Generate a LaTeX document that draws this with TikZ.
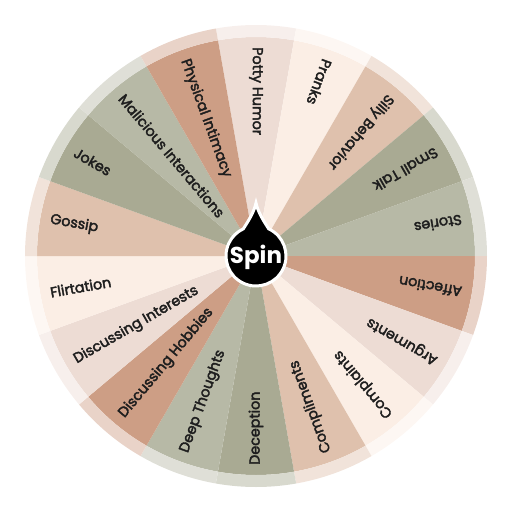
\documentclass[tikz,border=0pt]{standalone}
\usepackage{fontspec}
\setmainfont{Poppins}
\newfontfamily\wheelfont[FakeBold=2.6]{Poppins}
\usepackage{xcolor}
\usetikzlibrary{calc}

\definecolor{wc0}{HTML}{EDDCD4}
\definecolor{wc1}{HTML}{FBEEE5}
\definecolor{wc2}{HTML}{DFC1AD}
\definecolor{wc3}{HTML}{A9AA93}
\definecolor{wc4}{HTML}{B7B9A6}
\definecolor{wc5}{HTML}{CD9E85}
\definecolor{inkgray}{HTML}{1E1E1E}

\begin{document}
\begin{tikzpicture}[
                x=1pt, y=1pt,
                lbl/.style={anchor=west, inner sep=0pt, text=inkgray, font=\wheelfont\fontsize{14.3}{14.3}\selectfont},
                spinbtn/.style={fill=black, draw=white, line width=3pt},
                spintext/.style={text=white, font=\fontsize{23}{23}\selectfont\bfseries}
            ]
                \useasboundingbox (-256,-256) rectangle (256,256);

                % Wheel segments and labels
                \foreach \lbl [count=\i from 0, evaluate=\i as \a using 90-20*\i] in
                    {Potty Humor, Pranks, Silly Behavior, Small Talk, Stories, Affection,
                     Arguments, Complaints, Compliments, Deception, Deep Thoughts, Discussing Hobbies,
                     Discussing Interests, Flirtation, Gossip, Jokes, Malicious Interactions, Physical Intimacy}
                {
                    \pgfmathtruncatemacro{\k}{mod(\i,6)}
                    \fill[wc\k] (0,0) -- (\a-10:219) arc[start angle=\a-10, end angle=\a+10, radius=219] -- cycle;
                    \fill[wc\k!45!white] (\a-10:219) arc[start angle=\a-10, end angle=\a+10, radius=219]
                        -- (\a+10:231) arc[start angle=\a+10, end angle=\a-10, radius=231] -- cycle;
                    \node[lbl, rotate=\a+180] (seg\i) at (\a:209) {\lbl};
                }

                % Spin button
                \draw[spinbtn] (0,53) .. controls (2,44) and (7,36) .. (65:30)
                    arc[start angle=65, end angle=-245, radius=30]
                    .. controls (-7,36) and (-2,44) .. cycle;
                \node[spintext] (spin) at (0,-1) {Spin};
            \end{tikzpicture}
\end{document}
